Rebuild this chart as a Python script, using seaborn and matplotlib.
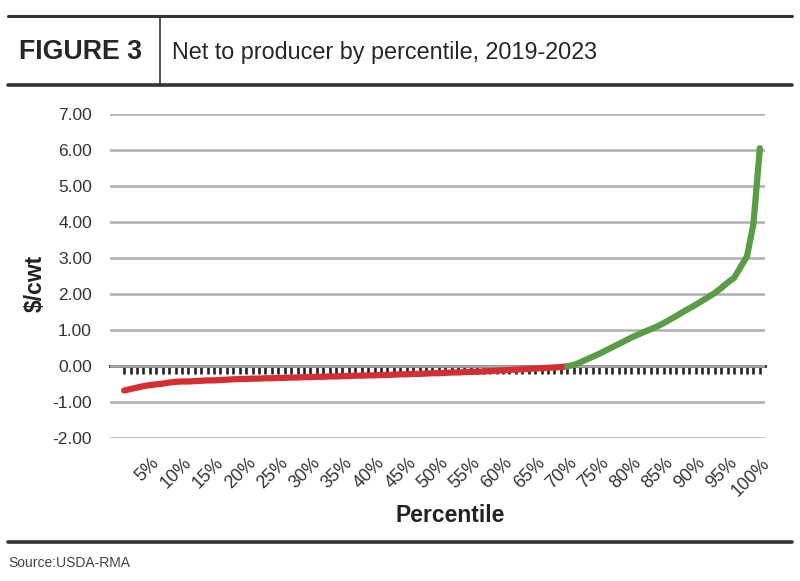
import numpy as np
import pandas as pd
import matplotlib
matplotlib.use("Agg")
import matplotlib.pyplot as plt
import seaborn as sns
from matplotlib.lines import Line2D
from matplotlib.ticker import FuncFormatter
from matplotlib.transforms import ScaledTranslation

# Net to producer ($/cwt) by percentile
percentile = list(range(1, 101))
net_low = [-0.68, -0.64, -0.60, -0.56, -0.53, -0.51, -0.49, -0.46, -0.44, -0.43,
           -0.43, -0.42, -0.41, -0.40, -0.40, -0.39, -0.38, -0.37, -0.36, -0.36,
           -0.35, -0.35, -0.34, -0.34, -0.33, -0.33, -0.32, -0.32, -0.31, -0.31,
           -0.30, -0.30, -0.29, -0.29, -0.28, -0.28, -0.27, -0.27, -0.26, -0.26,
           -0.25, -0.25, -0.24, -0.23, -0.23, -0.22, -0.22, -0.21, -0.20, -0.20,
           -0.19, -0.18, -0.18, -0.17, -0.16, -0.16, -0.15, -0.14, -0.13, -0.12,
           -0.11, -0.10, -0.09, -0.08, -0.07, -0.06, -0.05, -0.04, -0.03, -0.01]
net_high = [0.03, 0.10, 0.18, 0.26, 0.34, 0.43, 0.52, 0.61, 0.70, 0.79,
            0.87, 0.95, 1.02, 1.10, 1.19, 1.29, 1.39, 1.50, 1.60, 1.70,
            1.81, 1.92, 2.03, 2.17, 2.32, 2.45, 2.75, 3.05, 3.95, 6.05]
label_pcts = list(range(5, 101, 5))
y_ticks = list(range(-2, 8))

df = pd.DataFrame({"percentile": percentile, "net": net_low + net_high})
loss = df[df["percentile"] <= 70]
gain = df[df["percentile"] >= 70]

sns.set_theme(style="white")
plt.rcParams["font.family"] = ["Liberation Sans", "DejaVu Sans"]

W, H = 800, 581
fig = plt.figure(figsize=(8, 5.81), dpi=100)
ax = fig.add_axes([110 / W, 1 - 438 / H, 655 / W, (438 - 114) / H])

sns.lineplot(data=loss, x="percentile", y="net", color="#d42e35", lw=4.5,
             solid_capstyle="round", ax=ax, zorder=3)
sns.lineplot(data=gain, x="percentile", y="net", color="#5b9c46", lw=4.5,
             solid_capstyle="round", ax=ax, zorder=3)

ax.set_ylim(-2, 7)
ax.set_xlim(-1.2, 100.8)
ax.set_yticks(y_ticks)
ax.yaxis.set_major_formatter(FuncFormatter(lambda v, _: f"{v:.2f}"))
ax.yaxis.grid(True, color="#b0b0b0", lw=1.8)
ax.set_axisbelow(True)
for s in ax.spines.values():
    s.set_visible(False)
ax.tick_params(axis="y", length=0, pad=13, labelsize=12.5, labelcolor="#333333")
ax.set_xlabel("")
ax.set_ylabel("")

ax.set_xticks(label_pcts, labels=[f"{p}%" for p in label_pcts])
ax.tick_params(axis="x", length=0, pad=12, labelsize=13, labelcolor="#333333")
shift = ScaledTranslation(0.01, 0, fig.dpi_scale_trans)
for lab in ax.get_xticklabels():
    lab.set_rotation(45)
    lab.set_ha("right")
    lab.set_va("top")
    lab.set_rotation_mode("anchor")
    lab.set_transform(lab.get_transform() + shift)

# zero line with small category ticks hanging below it
zero = ax.secondary_xaxis(0, transform=ax.transData)
zero.set_xticks(percentile, labels=[])
zero.tick_params(axis="x", length=5.5, width=1.9, color="#222222", direction="out")
zero.spines["bottom"].set_color("#222222")
zero.spines["bottom"].set_linewidth(2)

fig.text(35 / W, 1 - 283 / H, "$/cwt", rotation=90, fontsize=16.5, fontweight="bold",
         ha="center", va="center", color="#222222")
fig.text(450 / W, 1 - 515 / H, "Percentile", fontsize=16.5, fontweight="bold",
         ha="center", va="center", color="#222222")

# header block and rules
fig.add_artist(Line2D([8 / W, 792 / W], [1 - 16 / H] * 2, color="#333333", lw=2.2))
fig.add_artist(Line2D([8 / W, 792 / W], [1 - 85 / H] * 2, color="#333333", lw=2.6))
fig.add_artist(Line2D([160 / W] * 2, [1 - 16 / H, 1 - 85 / H], color="#333333", lw=1.2))
fig.add_artist(Line2D([8 / W, 792 / W], [1 - 542 / H] * 2, color="#333333", lw=2.6))
fig.text(19 / W, 1 - 52 / H, "FIGURE 3", fontsize=19.3, fontweight="bold",
         ha="left", va="center", color="#262626")
fig.text(172 / W, 1 - 52 / H, "Net to producer by percentile, 2019-2023", fontsize=16.8,
         ha="left", va="center", color="#262626")
fig.text(8 / W, 1 - 563 / H, "Source:USDA-RMA", fontsize=10, ha="left", va="center",
         color="#444444")

fig.savefig("out.png", dpi=100)
